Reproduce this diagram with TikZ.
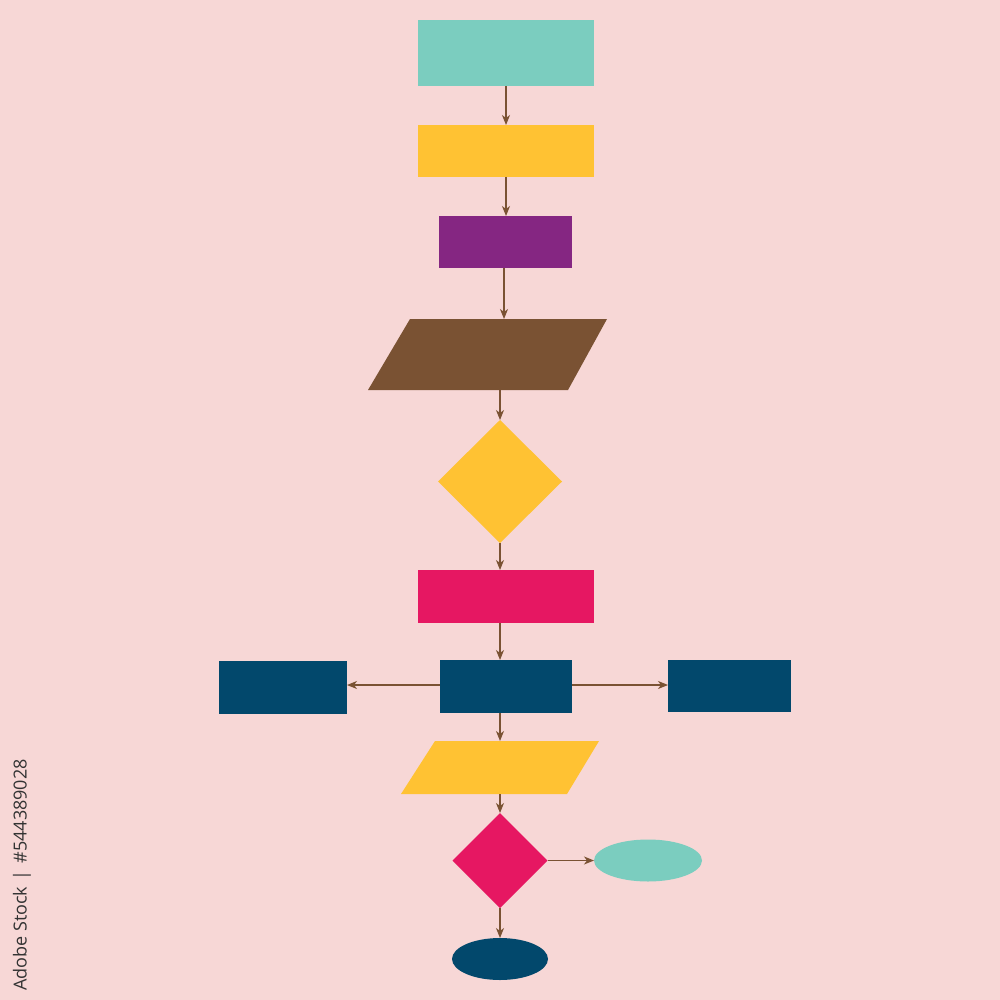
\documentclass[tikz,border=0pt]{standalone}
\usepackage{fontspec}
\newfontfamily\wmfont{Open Sans}
\usetikzlibrary{shapes.geometric,arrows.meta,calc}
\definecolor{bg}{HTML}{F7D7D6}
\definecolor{cteal}{HTML}{7BCDBF}
\definecolor{cyellow}{HTML}{FFC233}
\definecolor{cpurple}{HTML}{852682}
\definecolor{cbrown}{HTML}{7A5233}
\definecolor{cpink}{HTML}{E61762}
\definecolor{cnavy}{HTML}{02486C}
\definecolor{carrow}{HTML}{7A5233}
\begin{document}
\begin{tikzpicture}[x=1pt,y=-1pt,
  box/.style={rectangle,inner sep=0pt,outer sep=0pt,draw=none},
  dia/.style={diamond,inner sep=0pt,outer sep=0pt,draw=none,aspect=1},
  ell/.style={ellipse,inner sep=0pt,outer sep=0pt,draw=none},
  arr/.style={draw=carrow,line width=1.1pt,-{Stealth[length=10pt,width=8pt,inset=3pt]}}]
\fill[bg] (0,0) rectangle (1000,1000);
\useasboundingbox (0,0) rectangle (1000,1000);
% rectangles
\node[box,fill=cteal,minimum width=176pt,minimum height=66pt] (t1) at (506,53) {};
\node[box,fill=cyellow,minimum width=176pt,minimum height=52pt] (t2) at (506,151) {};
\node[box,fill=cpurple,minimum width=133pt,minimum height=52pt] (t3) at (505.5,242) {};
% brown parallelogram
\fill[cbrown] (410,319) -- (607,319) -- (568,390) -- (368,390) -- cycle;
\coordinate (p1top) at (504,319);
\coordinate (p1bot) at (500,390);
% yellow diamond
\node[dia,fill=cyellow,minimum width=124pt,minimum height=123pt] (d1) at (500,481.5) {};
\node[box,fill=cpink,minimum width=176pt,minimum height=53pt] (t4) at (506,596.5) {};
\node[box,fill=cnavy,minimum width=132pt,minimum height=53pt] (t5) at (506,686.5) {};
\node[box,fill=cnavy,minimum width=128pt,minimum height=53pt] (tl) at (283,687.5) {};
\node[box,fill=cnavy,minimum width=123pt,minimum height=52pt] (tr) at (729.5,686) {};
% yellow parallelogram
\fill[cyellow] (435,741) -- (599,741) -- (567,794) -- (401,794) -- cycle;
\coordinate (p2top) at (500,741);
\coordinate (p2bot) at (500,794);
\node[dia,fill=cpink,minimum width=95pt,minimum height=95pt] (d2) at (500,860.5) {};
\node[ell,fill=cteal,minimum width=108pt,minimum height=42pt] (e1) at (648,860.5) {};
\node[ell,fill=cnavy,minimum width=96pt,minimum height=42pt] (e2) at (500,959) {};
% arrows
\draw[arr] (t1.south) -- (t2.north);
\draw[arr] (t2.south) -- (t3.north -| t2.south);
\draw[arr] (t3.south -| p1top) -- (p1top);
\draw[arr] (p1bot) -- (d1.north);
\draw[arr] (d1.south) -- (t4.north -| d1.south);
\draw[arr] (t4.south -| d1.south) -- (t5.north -| d1.south);
\coordinate (hmid) at (0,685);
\draw[arr] (t5.west |- hmid) -- (tl.east |- hmid);
\draw[arr] (t5.east |- hmid) -- (tr.west |- hmid);
\draw[arr] (t5.south -| p2top) -- (p2top);
\draw[arr] (p2bot) -- (d2.north);
\draw[arr] (d2.east) -- (e1.west);
\draw[arr] (d2.south) -- (e2.north);
% watermark id text
\node[rotate=90,anchor=east,inner sep=0pt,text=black!80,font=\wmfont\fontsize{18}{18}\selectfont] (wm) at (22,759) {Adobe Stock\hspace{2pt} | \hspace{2pt}\#544389028};
\end{tikzpicture}
\end{document}
